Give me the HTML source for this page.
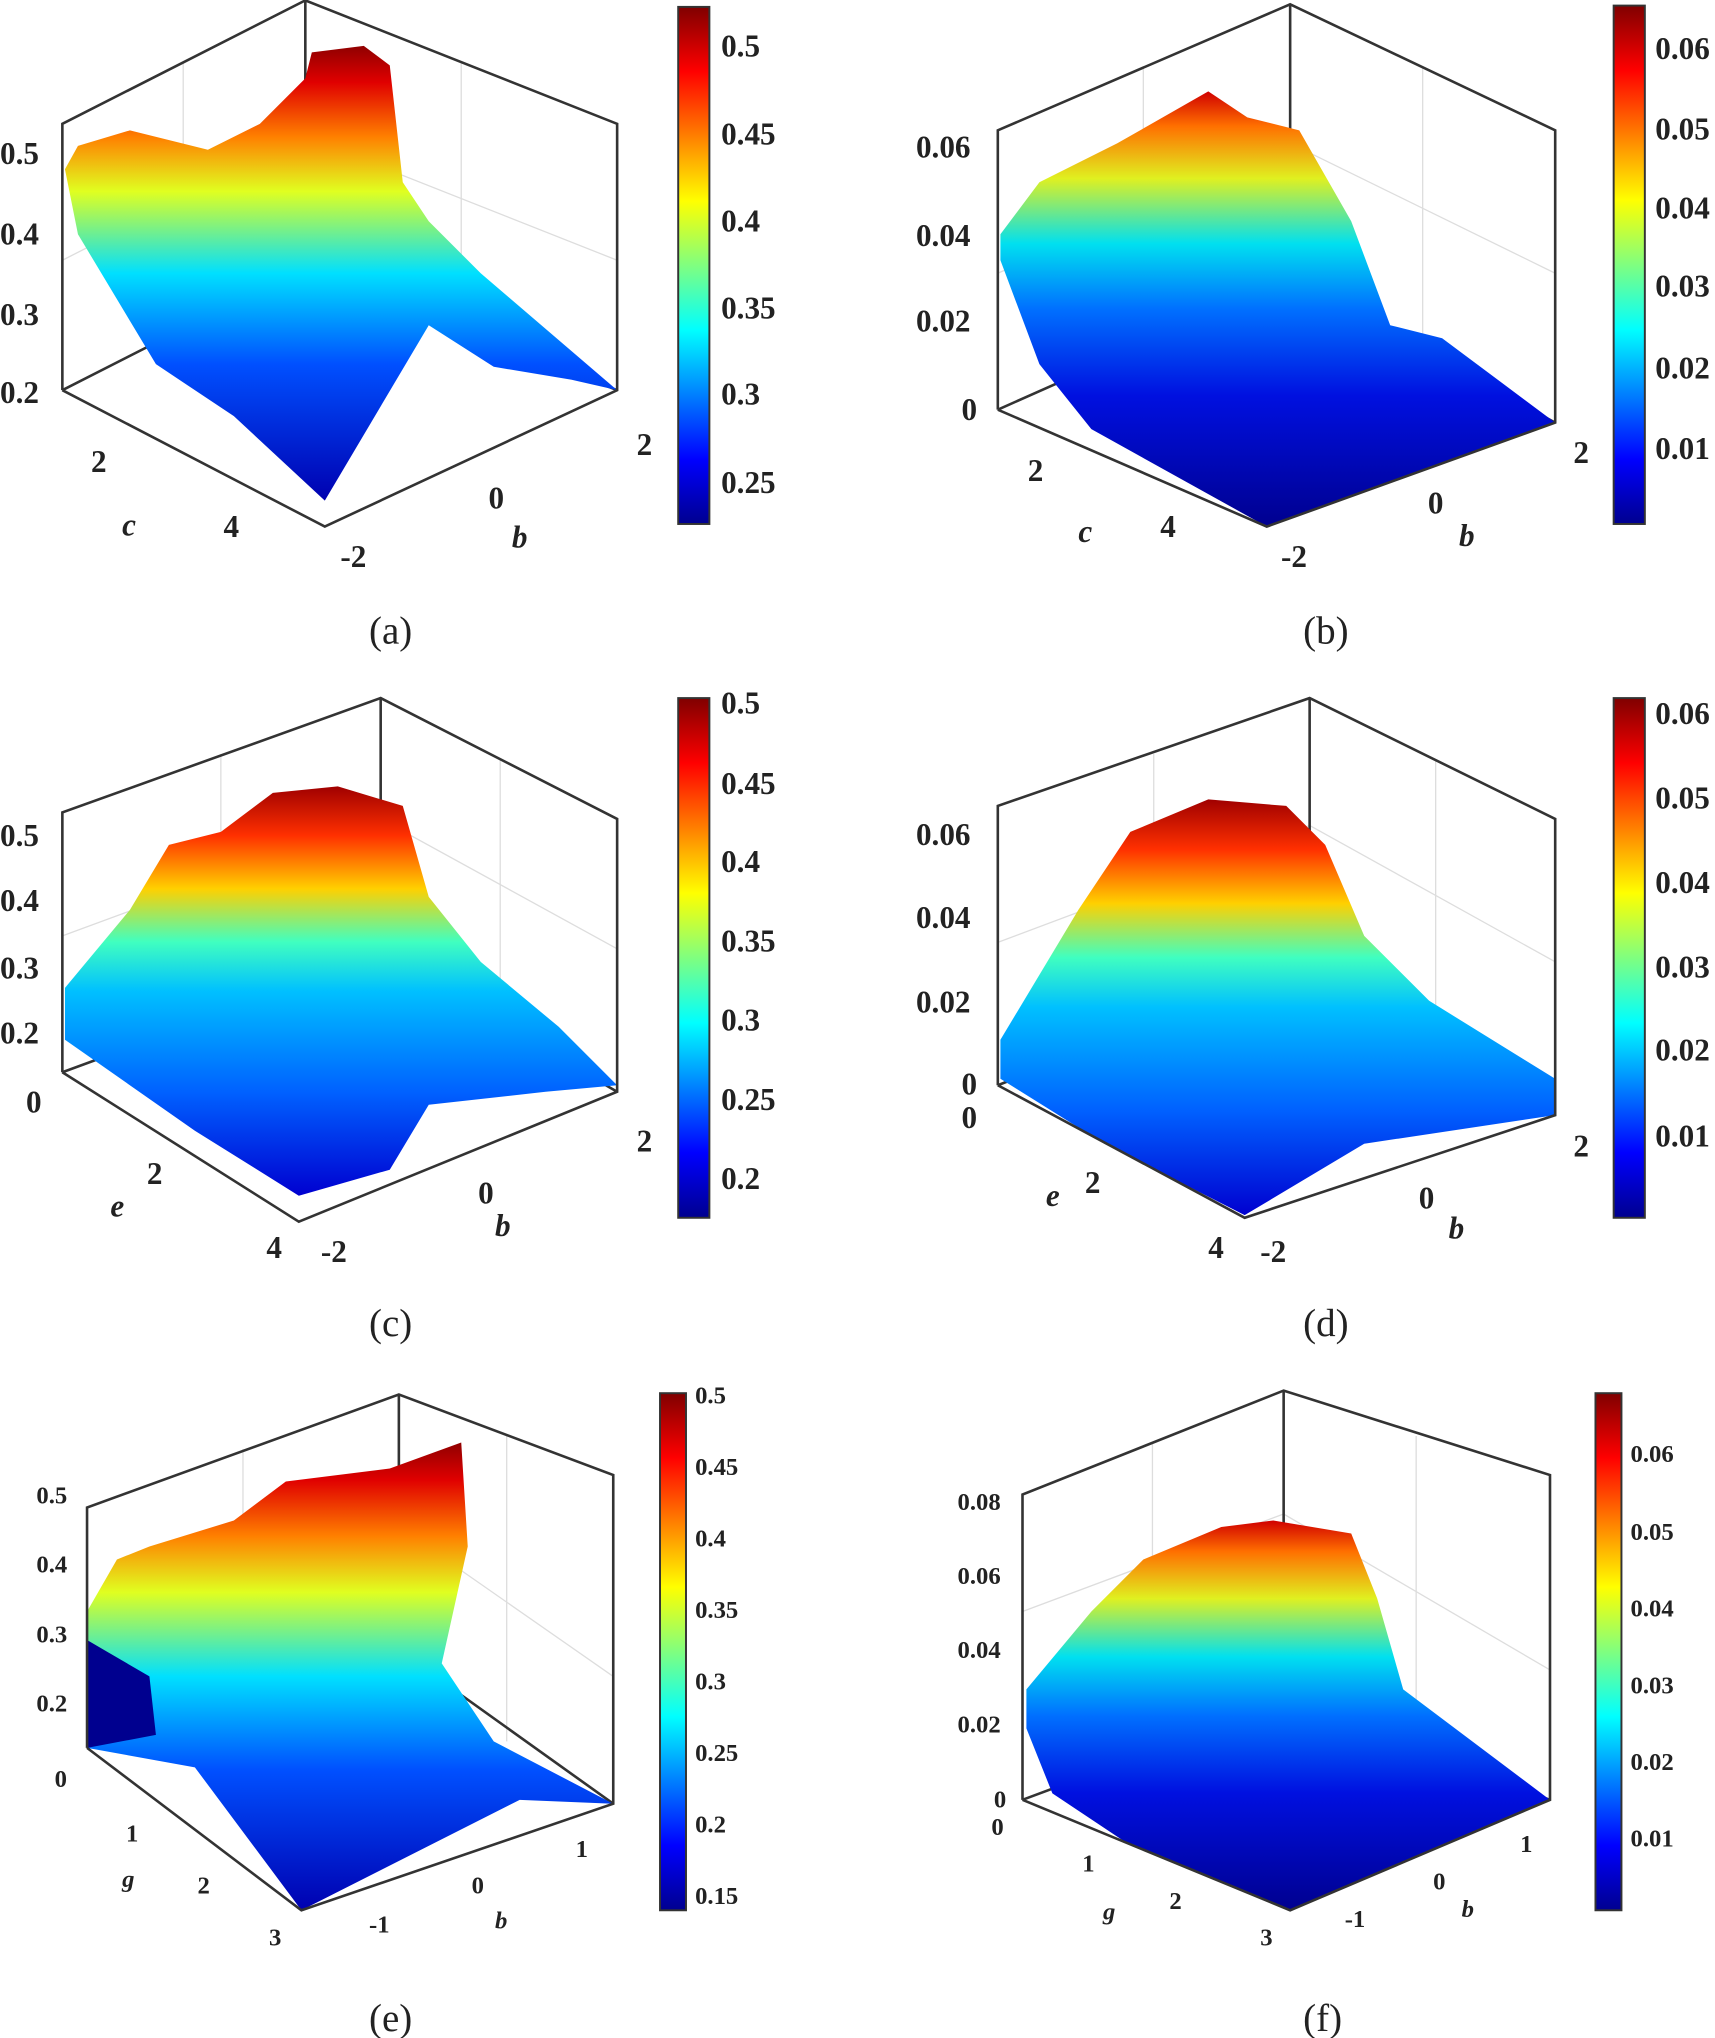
<!DOCTYPE html>
<html><head><meta charset="utf-8"><style>
html,body{margin:0;padding:0;background:#fff;}
svg{display:block;}
text{font-family:"Liberation Serif",serif;font-weight:bold;fill:#222;}
.cap{font-weight:normal;font-size:30px;}
.t{font-size:24px;}
.ts{font-size:19px;}
.ax{stroke:#333;stroke-width:2;fill:none;}
.gr{stroke:#ddd;stroke-width:1;fill:none;}
</style></head><body>
<svg width="1715" height="2038" viewBox="0 0 1320 1568" xmlns="http://www.w3.org/2000/svg">
<defs>
<linearGradient id="cb" x1="0" y1="1" x2="0" y2="0">
<stop offset="0" stop-color="#00008f"/><stop offset="0.125" stop-color="#0000ff"/><stop offset="0.375" stop-color="#00ffff"/><stop offset="0.625" stop-color="#ffff00"/><stop offset="0.875" stop-color="#ff0000"/><stop offset="1" stop-color="#800000"/></linearGradient>
<linearGradient id="sa" x1="0" y1="1" x2="0" y2="0">
<stop offset="0" stop-color="#0000b0"/><stop offset="0.3" stop-color="#0050ff"/><stop offset="0.5" stop-color="#00e0ff"/><stop offset="0.68" stop-color="#e0ff20"/><stop offset="0.8" stop-color="#ff8000"/><stop offset="0.92" stop-color="#e00000"/><stop offset="1" stop-color="#900000"/></linearGradient>
<linearGradient id="sb" x1="0" y1="1" x2="0" y2="0">
<stop offset="0" stop-color="#00008f"/><stop offset="0.3" stop-color="#0010e0"/><stop offset="0.5" stop-color="#0070ff"/><stop offset="0.65" stop-color="#00e0f0"/><stop offset="0.8" stop-color="#e0f020"/><stop offset="0.92" stop-color="#ff7000"/><stop offset="1" stop-color="#d00000"/></linearGradient>
<linearGradient id="sc" x1="0" y1="1" x2="0" y2="0">
<stop offset="0" stop-color="#0000d0"/><stop offset="0.25" stop-color="#0060ff"/><stop offset="0.5" stop-color="#00c0ff"/><stop offset="0.62" stop-color="#40ffc0"/><stop offset="0.75" stop-color="#ffd000"/><stop offset="0.88" stop-color="#ff3000"/><stop offset="1" stop-color="#a00000"/></linearGradient>
</defs>

<!-- Panel a -->
<g>
<polyline class="gr" points="48,200 235,105 475,200"/>
<line class="gr" x1="141" y1="47" x2="141" y2="252"/><line class="gr" x1="355" y1="47" x2="355" y2="252"/>
<polyline class="ax" points="48,300 235,205 475,300"/>
<line class="ax" x1="235" y1="0" x2="235" y2="205"/>
<polygon fill="url(#sa)" points="50,130 60,112 100,100 160,115 200,95 235,60 240,40 280,35 300,50 310,140 330,170 370,210 475,300 440,292 380,282 330,250 250,385 180,320 120,280 60,180"/>
<polyline class="ax" points="48,300 48,95 235,0 475,95 475,300 250,405 48,300"/>
<text class="t" x="0" y="126">0.5</text><text class="t" x="0" y="188">0.4</text><text class="t" x="0" y="250">0.3</text><text class="t" x="0" y="310">0.2</text>
<text class="t" x="70" y="363">2</text><text class="t" x="172" y="413">4</text><text class="t" x="94" y="412" font-style="italic">c</text>
<text class="t" x="490" y="350">2</text><text class="t" x="376" y="391">0</text><text class="t" x="262" y="436">-2</text><text class="t" x="394" y="421" font-style="italic">b</text>
<rect x="522" y="5" width="24" height="398" fill="url(#cb)" stroke="#333" stroke-width="1.5"/>
<text class="t" x="555" y="43">0.5</text><text class="t" x="555" y="111">0.45</text><text class="t" x="555" y="178">0.4</text><text class="t" x="555" y="245">0.35</text><text class="t" x="555" y="311">0.3</text><text class="t" x="555" y="379">0.25</text>
<text class="cap" x="284" y="495">(a)</text>
</g>

<!-- Panel b -->
<g>
<polyline class="gr" points="768,210 993,110 1197,210"/>
<line class="gr" x1="880" y1="52" x2="880" y2="262"/><line class="gr" x1="1095" y1="52" x2="1095" y2="262"/>
<polyline class="ax" points="768,315 993,215 1197,325"/>
<line class="ax" x1="993" y1="3" x2="993" y2="215"/>
<polygon fill="url(#sb)" points="770,180 800,140 860,110 930,70 960,90 1000,100 1040,170 1070,250 1110,260 1197,325 975,405 840,330 800,280 770,200"/>
<polyline class="ax" points="768,315 768,100 993,3 1197,100 1197,325 975,405 768,315"/>
<text class="t" x="705" y="121">0.06</text><text class="t" x="705" y="189">0.04</text><text class="t" x="705" y="255">0.02</text><text class="t" x="740" y="323">0</text>
<text class="t" x="791" y="370">2</text><text class="t" x="893" y="413">4</text><text class="t" x="830" y="417" font-style="italic">c</text>
<text class="t" x="1211" y="356">2</text><text class="t" x="1099" y="395">0</text><text class="t" x="986" y="436">-2</text><text class="t" x="1123" y="420" font-style="italic">b</text>
<rect x="1242" y="4" width="24" height="399" fill="url(#cb)" stroke="#333" stroke-width="1.5"/>
<text class="t" x="1274" y="45">0.06</text><text class="t" x="1274" y="107">0.05</text><text class="t" x="1274" y="168">0.04</text><text class="t" x="1274" y="228">0.03</text><text class="t" x="1274" y="291">0.02</text><text class="t" x="1274" y="353">0.01</text>
<text class="cap" x="1003" y="495">(b)</text>
</g>

<!-- Panel c -->
<g>
<polyline class="gr" points="48,720 293,630 475,730"/>
<line class="gr" x1="170" y1="580" x2="170" y2="780"/><line class="gr" x1="385" y1="585" x2="385" y2="785"/>
<polyline class="ax" points="48,825 293,735 475,840"/>
<line class="ax" x1="293" y1="537" x2="293" y2="735"/>
<polygon fill="url(#sc)" points="50,760 100,700 130,650 170,640 210,610 260,605 310,620 330,690 370,740 430,790 475,835 420,840 330,850 300,900 230,920 150,870 50,800"/>
<polyline class="ax" points="48,825 48,625 293,537 475,630 475,840 230,940 48,825"/>
<text class="t" x="0" y="651">0.5</text><text class="t" x="0" y="701">0.4</text><text class="t" x="0" y="753">0.3</text><text class="t" x="0" y="803">0.2</text>
<text class="t" x="20" y="856">0</text><text class="t" x="113" y="911">2</text><text class="t" x="205" y="968">4</text><text class="t" x="85" y="936" font-style="italic">e</text>
<text class="t" x="490" y="886">2</text><text class="t" x="368" y="926">0</text><text class="t" x="247" y="971">-2</text><text class="t" x="381" y="951" font-style="italic">b</text>
<rect x="522" y="537" width="24" height="400" fill="url(#cb)" stroke="#333" stroke-width="1.5"/>
<text class="t" x="555" y="549">0.5</text><text class="t" x="555" y="611">0.45</text><text class="t" x="555" y="671">0.4</text><text class="t" x="555" y="732">0.35</text><text class="t" x="555" y="793">0.3</text><text class="t" x="555" y="854">0.25</text><text class="t" x="555" y="915">0.2</text>
<text class="cap" x="284" y="1028">(c)</text>
</g>

<!-- Panel d -->
<g>
<polyline class="gr" points="768,725 1008,635 1197,740"/>
<line class="gr" x1="888" y1="580" x2="888" y2="780"/><line class="gr" x1="1105" y1="585" x2="1105" y2="795"/>
<polyline class="ax" points="768,835 1008,740 1197,858"/>
<line class="ax" x1="1008" y1="537" x2="1008" y2="740"/>
<polygon fill="url(#sc)" points="770,800 830,700 870,640 930,615 990,620 1020,650 1050,720 1100,770 1197,830 1197,858 1050,880 958,935 850,880 770,830"/>
<polyline class="ax" points="768,835 768,620 1008,537 1197,630 1197,858 958,937 768,835"/>
<text class="t" x="705" y="650">0.06</text><text class="t" x="705" y="714">0.04</text><text class="t" x="705" y="779">0.02</text><text class="t" x="740" y="842">0</text>
<text class="t" x="740" y="868">0</text><text class="t" x="835" y="918">2</text><text class="t" x="930" y="968">4</text><text class="t" x="805" y="928" font-style="italic">e</text>
<text class="t" x="1211" y="890">2</text><text class="t" x="1092" y="930">0</text><text class="t" x="970" y="971">-2</text><text class="t" x="1115" y="953" font-style="italic">b</text>
<rect x="1242" y="537" width="24" height="400" fill="url(#cb)" stroke="#333" stroke-width="1.5"/>
<text class="t" x="1274" y="557">0.06</text><text class="t" x="1274" y="622">0.05</text><text class="t" x="1274" y="687">0.04</text><text class="t" x="1274" y="752">0.03</text><text class="t" x="1274" y="816">0.02</text><text class="t" x="1274" y="882">0.01</text>
<text class="cap" x="1003" y="1028">(d)</text>
</g>

<!-- Panel e -->
<g>
<polyline class="gr" points="67,1255 307,1175 472,1290"/>
<line class="gr" x1="187" y1="1115" x2="187" y2="1300"/><line class="gr" x1="390" y1="1105" x2="390" y2="1340"/>
<polyline class="ax" points="67,1345 307,1270 472,1388"/>
<line class="ax" x1="307" y1="1073" x2="307" y2="1270"/>
<polygon fill="url(#sa)" points="67,1240 90,1200 115,1190 180,1170 220,1140 300,1130 355,1110 360,1190 340,1280 380,1340 472,1388 400,1385 232,1470 150,1360 67,1345"/>
<polygon fill="#00008f" points="67,1262 115,1290 120,1335 67,1345"/>
<polyline class="ax" points="67,1345 67,1160 307,1073 472,1135 472,1388 232,1470 67,1345"/>
<text class="ts" x="28" y="1157">0.5</text><text class="ts" x="28" y="1210">0.4</text><text class="ts" x="28" y="1264">0.3</text><text class="ts" x="28" y="1317">0.2</text>
<text class="ts" x="42" y="1375">0</text><text class="ts" x="97" y="1417">1</text><text class="ts" x="152" y="1457">2</text><text class="ts" x="207" y="1497">3</text><text class="ts" x="94" y="1452" font-style="italic">g</text>
<text class="ts" x="443" y="1429">1</text><text class="ts" x="363" y="1457">0</text><text class="ts" x="284" y="1487">-1</text><text class="ts" x="381" y="1484" font-style="italic">b</text>
<rect x="508" y="1072" width="20" height="398" fill="url(#cb)" stroke="#333" stroke-width="1.5"/>
<text class="ts" x="535" y="1080">0.5</text><text class="ts" x="535" y="1135">0.45</text><text class="ts" x="535" y="1190">0.4</text><text class="ts" x="535" y="1245">0.35</text><text class="ts" x="535" y="1300">0.3</text><text class="ts" x="535" y="1355">0.25</text><text class="ts" x="535" y="1410">0.2</text><text class="ts" x="535" y="1465">0.15</text>
<text class="cap" x="284" y="1563">(e)</text>
</g>

<!-- Panel f -->
<g>
<polyline class="gr" points="787,1240 988,1165 1193,1285"/>
<line class="gr" x1="887" y1="1110" x2="887" y2="1305"/><line class="gr" x1="1090" y1="1105" x2="1090" y2="1335"/>
<polyline class="ax" points="787,1385 988,1310 1193,1385"/>
<line class="ax" x1="988" y1="1070" x2="988" y2="1310"/>
<polygon fill="url(#sb)" points="790,1300 840,1240 880,1200 940,1175 980,1170 1040,1180 1060,1230 1080,1300 1193,1385 993,1470 870,1420 810,1380 790,1330"/>
<polyline class="ax" points="787,1385 787,1150 988,1070 1193,1135 1193,1385 993,1470 787,1385"/>
<text class="ts" x="737" y="1162">0.08</text><text class="ts" x="737" y="1219">0.06</text><text class="ts" x="737" y="1276">0.04</text><text class="ts" x="737" y="1333">0.02</text><text class="ts" x="765" y="1391">0</text>
<text class="ts" x="763" y="1412">0</text><text class="ts" x="833" y="1440">1</text><text class="ts" x="900" y="1469">2</text><text class="ts" x="970" y="1497">3</text><text class="ts" x="849" y="1477" font-style="italic">g</text>
<text class="ts" x="1170" y="1425">1</text><text class="ts" x="1103" y="1454">0</text><text class="ts" x="1035" y="1483">-1</text><text class="ts" x="1125" y="1475" font-style="italic">b</text>
<rect x="1228" y="1072" width="20" height="398" fill="url(#cb)" stroke="#333" stroke-width="1.5"/>
<text class="ts" x="1255" y="1125">0.06</text><text class="ts" x="1255" y="1185">0.05</text><text class="ts" x="1255" y="1244">0.04</text><text class="ts" x="1255" y="1303">0.03</text><text class="ts" x="1255" y="1362">0.02</text><text class="ts" x="1255" y="1421">0.01</text>
<text class="cap" x="1003" y="1563">(f)</text>
</g>
</svg>
</body></html>
